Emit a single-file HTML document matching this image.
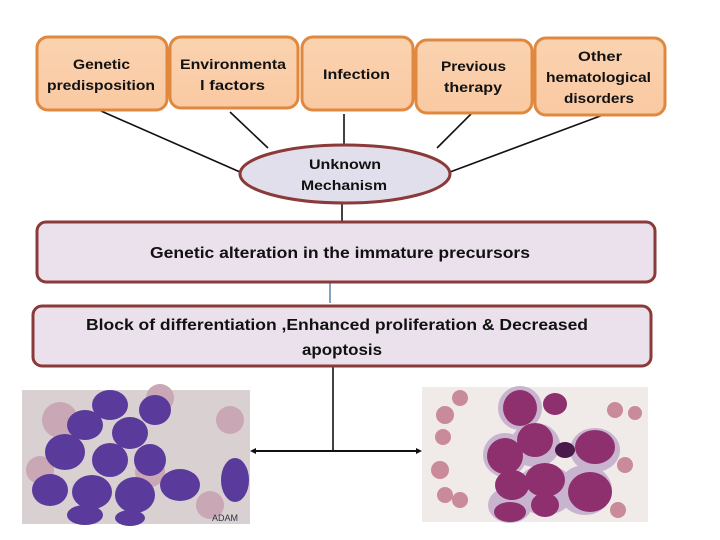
<!DOCTYPE html>
<html><head><style>
body{margin:0;background:#fff;}
svg{display:block;}
text{font-family:"Liberation Sans",sans-serif;fill:#111;font-weight:bold;}
</style></head><body>
<svg width="720" height="540" viewBox="0 0 720 540" xmlns="http://www.w3.org/2000/svg">
<defs>
<linearGradient id="bx" x1="0" y1="0" x2="0" y2="1"><stop offset="0" stop-color="#fbd3b0"/><stop offset="1" stop-color="#f9c9a2"/></linearGradient>
</defs>
<g stroke="#111" stroke-width="1.6">
<line x1="101" y1="111" x2="240" y2="172"/>
<line x1="230" y1="112" x2="268" y2="148"/>
<line x1="344" y1="114" x2="344" y2="144"/>
<line x1="472" y1="113" x2="437" y2="148"/>
<line x1="603" y1="115" x2="450" y2="172"/>
<line x1="342" y1="203" x2="342" y2="221"/>
<line x1="333" y1="366" x2="333" y2="451"/>
<line x1="254" y1="451" x2="418" y2="451" stroke-width="2"/>
</g>
<polygon points="250,451 256,448 256,454" fill="#111"/>
<polygon points="422,451 416,448 416,454" fill="#111"/>
<line x1="330" y1="283" x2="330" y2="303" stroke="#5b82b0" stroke-width="1.5"/>
<g fill="url(#bx)" stroke="#e0893e" stroke-width="3">
<rect x="37" y="37" width="130" height="73" rx="11"/>
<rect x="170" y="37" width="128" height="71" rx="11"/>
<rect x="302" y="37" width="111" height="73" rx="11"/>
<rect x="416" y="40" width="116" height="73" rx="11"/>
<rect x="535" y="38" width="130" height="77" rx="11"/>
</g>
<g font-size="14" lengthAdjust="spacingAndGlyphs">
<text x="73" y="69" textLength="57" lengthAdjust="spacingAndGlyphs">Genetic</text><text x="47" y="90" textLength="108" lengthAdjust="spacingAndGlyphs">predisposition</text>
<text x="180" y="69" textLength="106" lengthAdjust="spacingAndGlyphs">Environmenta</text><text x="200" y="90" textLength="65" lengthAdjust="spacingAndGlyphs">l  factors</text>
<text x="323" y="79" textLength="67" lengthAdjust="spacingAndGlyphs">Infection</text>
<text x="441" y="71" textLength="65" lengthAdjust="spacingAndGlyphs">Previous</text><text x="444" y="92" textLength="58" lengthAdjust="spacingAndGlyphs">therapy</text>
<text x="578" y="61" textLength="44" lengthAdjust="spacingAndGlyphs">Other</text><text x="546" y="82" textLength="105" lengthAdjust="spacingAndGlyphs">hematological</text><text x="564" y="103" textLength="70" lengthAdjust="spacingAndGlyphs">disorders</text>
</g>
<ellipse cx="345" cy="174" rx="105" ry="29" fill="#e2dfec" stroke="#8b3a3a" stroke-width="3"/>
<text x="309" y="169" font-size="14" textLength="72" lengthAdjust="spacingAndGlyphs">Unknown</text>
<text x="301" y="190" font-size="14" textLength="86" lengthAdjust="spacingAndGlyphs">Mechanism</text>
<rect x="37" y="222" width="618" height="60" rx="9" fill="#ebe1ec" stroke="#8b3a3a" stroke-width="3"/>
<text x="150" y="258" font-size="16" textLength="380" lengthAdjust="spacingAndGlyphs">Genetic alteration in the immature precursors</text>
<rect x="33" y="306" width="618" height="60" rx="9" fill="#ebe1ec" stroke="#8b3a3a" stroke-width="3"/>
<text x="86" y="330" font-size="16" textLength="502" lengthAdjust="spacingAndGlyphs">Block of differentiation ,Enhanced proliferation &amp; Decreased</text>
<text x="302" y="355" font-size="16" textLength="80" lengthAdjust="spacingAndGlyphs">apoptosis</text>
<!-- left image -->
<rect x="22" y="390" width="228" height="134" fill="#d9d0d2"/>
<g fill="#c9a7b4">
<circle cx="60" cy="420" r="18"/><circle cx="160" cy="398" r="14"/><circle cx="150" cy="472" r="15"/><circle cx="230" cy="420" r="14"/><circle cx="40" cy="470" r="14"/><circle cx="210" cy="505" r="14"/>
</g>
<g fill="#5a3b9c">
<ellipse cx="110" cy="405" rx="18" ry="15"/><ellipse cx="155" cy="410" rx="16" ry="15"/><ellipse cx="85" cy="425" rx="18" ry="15"/>
<ellipse cx="130" cy="433" rx="18" ry="16"/><ellipse cx="65" cy="452" rx="20" ry="18"/><ellipse cx="110" cy="460" rx="18" ry="17"/>
<ellipse cx="150" cy="460" rx="16" ry="16"/><ellipse cx="50" cy="490" rx="18" ry="16"/><ellipse cx="92" cy="492" rx="20" ry="17"/>
<ellipse cx="135" cy="495" rx="20" ry="18"/><ellipse cx="180" cy="485" rx="20" ry="16"/><ellipse cx="85" cy="515" rx="18" ry="10"/>
<ellipse cx="235" cy="480" rx="14" ry="22"/><ellipse cx="130" cy="518" rx="15" ry="8"/>
</g>
<text x="212" y="521" font-size="9" style="fill:#334;font-weight:normal">ADAM</text>
<!-- right image -->
<rect x="422" y="387" width="226" height="135" fill="#f0ebe9"/>
<g fill="#c98a9a">
<circle cx="445" cy="415" r="9"/><circle cx="443" cy="437" r="8"/><circle cx="440" cy="470" r="9"/><circle cx="445" cy="495" r="8"/><circle cx="460" cy="500" r="8"/>
<circle cx="615" cy="410" r="8"/><circle cx="635" cy="413" r="7"/><circle cx="625" cy="465" r="8"/><circle cx="618" cy="510" r="8"/><circle cx="460" cy="398" r="8"/>
</g>
<g fill="#c9b4d0">
<ellipse cx="520" cy="408" rx="22" ry="22"/><ellipse cx="535" cy="445" rx="25" ry="22"/><ellipse cx="505" cy="455" rx="22" ry="22"/>
<ellipse cx="545" cy="490" rx="30" ry="25"/><ellipse cx="585" cy="490" rx="27" ry="25"/><ellipse cx="595" cy="450" rx="25" ry="22"/><ellipse cx="510" cy="505" rx="22" ry="18"/>
</g>
<g fill="#8e2f6e">
<ellipse cx="520" cy="408" rx="17" ry="18"/><ellipse cx="555" cy="404" rx="12" ry="11"/><ellipse cx="535" cy="440" rx="18" ry="17"/>
<ellipse cx="505" cy="456" rx="18" ry="18"/><ellipse cx="545" cy="480" rx="20" ry="17"/><ellipse cx="512" cy="485" rx="17" ry="15"/>
<ellipse cx="595" cy="447" rx="20" ry="17"/><ellipse cx="590" cy="492" rx="22" ry="20"/><ellipse cx="545" cy="505" rx="14" ry="12"/><ellipse cx="510" cy="512" rx="16" ry="10"/>
</g>
<ellipse cx="565" cy="450" rx="10" ry="8" fill="#4a1a4a"/>
</svg>
</body></html>
